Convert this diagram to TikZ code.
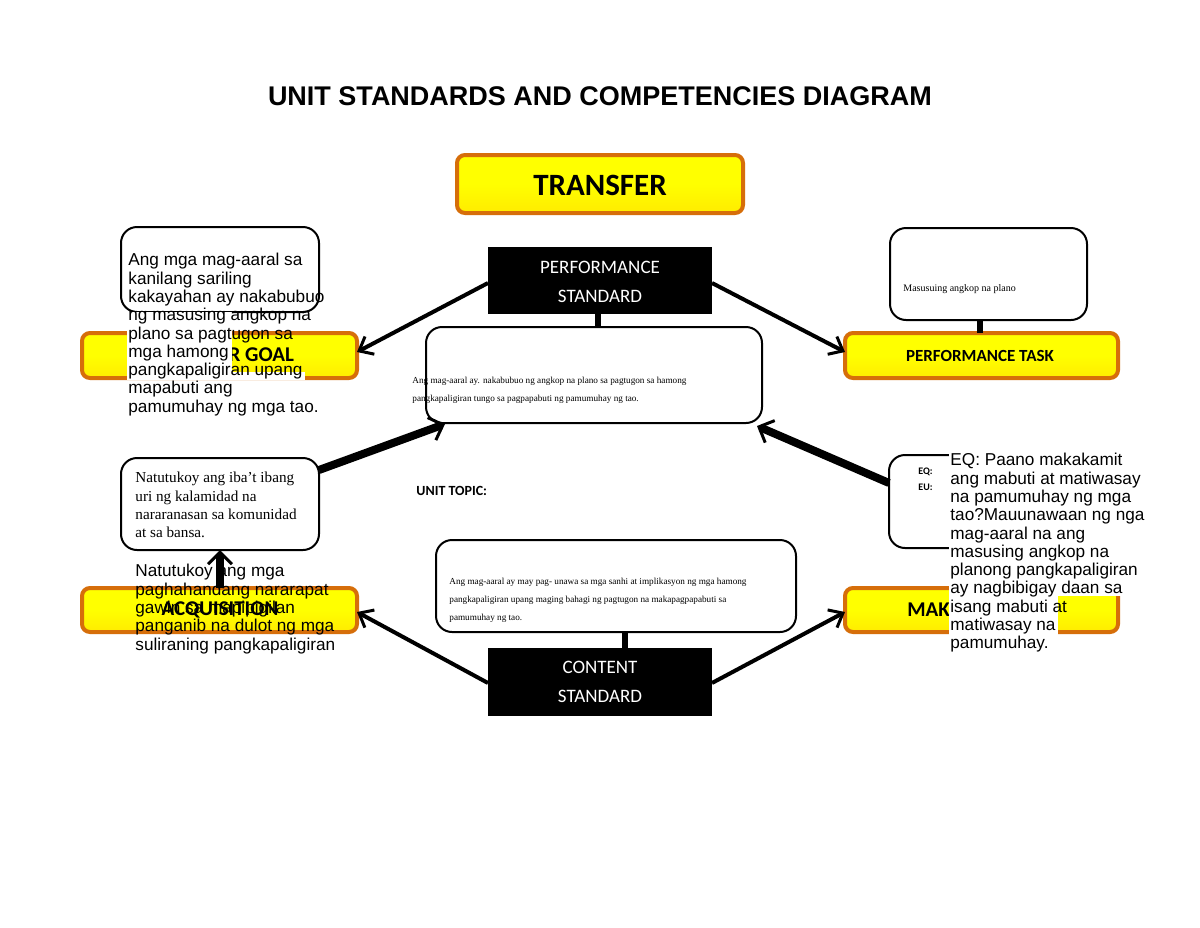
\documentclass[tikz,border=0pt]{standalone}
\usepackage{fontspec}
\setmainfont{Liberation Serif}
\newfontfamily\arial{Liberation Sans}
\newfontfamily\cali{Carlito}
\usetikzlibrary{arrows.meta}
\tikzset{
 ybox/.style={draw={rgb,255:red,214;green,110;blue,10},line width=2pt,rounded corners=4pt,top color=yellow,bottom color=yellow!85!orange,middle color=yellow},
 wbox/.style={draw=black,line width=1pt,rounded corners=8pt,fill=white},
 kbox/.style={fill=black},
 arr/.style={line width=2pt,-{Straight Barb[length=6pt,width=10pt,line width=1.5pt]}},
 tarr/.style={line width=4pt,-{Straight Barb[length=6pt,width=12pt,line width=1.5pt]}},
 stub/.style={line width=3pt},
 txt/.style={inner sep=0pt,align=left,anchor=north west},
 sans/.style={font=\arial\fontsize{8.6}{9.15}\selectfont},
 tiny/.style={font=\fontsize{4.6}{9}\selectfont},
}
\begin{document}
\begin{tikzpicture}[x=0.5pt,y=-0.5pt]
\useasboundingbox (0,0) rectangle (1200,927);
\fill[white] (0,0) rectangle (1200,927);
\node[font=\arial\bfseries\fontsize{13.5}{15}\selectfont] (title) at (600,96) {UNIT STANDARDS AND COMPETENCIES DIAGRAM};
% boxes
\draw[ybox] (457,155) rectangle (743,213);
\node[font=\cali\bfseries\fontsize{15.5}{17}\selectfont] (transfer) at (600,185) {TRANSFER};
\fill[kbox] (488,247) rectangle (712,314);
\node[white,align=center,font=\cali\fontsize{9.5}{14.5}\selectfont] (ps) at (600,282) {PERFORMANCE\\STANDARD};
\coordinate (psL) at (488,283); \coordinate (psR) at (712,283); \coordinate (psB) at (598,314);
\fill[kbox] (488,648) rectangle (712,716);
\node[white,align=center,font=\cali\fontsize{9.5}{14.5}\selectfont] (cs) at (600,682) {CONTENT\\STANDARD};
\coordinate (csL) at (488,683); \coordinate (csR) at (712,683); \coordinate (csT) at (625,648);
\draw[wbox] (426,327) rectangle (762,423);
\coordinate (ctT) at (598,327); \coordinate (ctBL) at (445,424); \coordinate (ctBR) at (757,426);
\node[txt,tiny] (ctext) at (412,377) {Ang mag-aaral ay. nakabubuo ng angkop na plano sa pagtugon sa hamong\\pangkapaligiran tungo sa pagpapabuti ng pamumuhay ng tao.};
\draw[wbox] (436,540) rectangle (796,632);
\coordinate (cbB) at (625,632);
\node[txt,tiny] (btext) at (449,578) {Ang mag-aaral ay may pag- unawa sa mga sanhi at implikasyon ng mga hamong\\pangkapaligiran upang maging bahagi ng pagtugon na makapagpapabuti sa\\pamumuhay ng tao.};
\node[anchor=west,inner sep=0pt,font=\cali\bfseries\fontsize{7}{8}\selectfont] (topic) at (416,491) {UNIT TOPIC:};
% right top
\draw[wbox] (890,228) rectangle (1087,320);
\coordinate (rtB) at (980,320);
\node[anchor=west,inner sep=0pt,font=\fontsize{5}{6}\selectfont] (rtt) at (903,289) {Masusuing angkop na plano};
\draw[ybox] (845,333) rectangle (1118,378);
\node[font=\cali\bfseries\fontsize{8.5}{10}\selectfont] (ptask) at (980,356) {PERFORMANCE TASK};
\coordinate (ptL) at (845,352); \coordinate (ptT) at (980,333);
% left top
\draw[wbox] (121,227) rectangle (319,312);
\draw[ybox] (82,333) rectangle (357,378);
\node[font=\cali\bfseries\fontsize{10.5}{12}\selectfont] (goal) at (222,355) {TRANSFER GOAL};
\coordinate (lgR) at (357,352);
\fill[white] (127,312) rectangle (232,372);
\fill[white] (127,372) rectangle (305,380);
\node[txt,sans] (gtext) at (128,253) {Ang mga mag-aaral sa\\kanilang sariling\\kakayahan ay nakabubuo\\ng masusing angkop na\\plano sa pagtugon sa\\mga hamong\\pangkapaligiran upang\\mapabuti ang\\pamumuhay ng mga tao.};
% left middle
\draw[wbox] (121,458) rectangle (319,550);
\node[txt,font=\fontsize{7.6}{9.1}\selectfont] (ltext) at (135,472) {Natutukoy ang iba’t ibang\\uri ng kalamidad na\\nararanasan sa komunidad\\at sa bansa.};
\coordinate (lmR) at (319,470); \coordinate (lmB) at (220,550);
\draw[ybox] (82,588) rectangle (357,632);
\node[font=\cali\bfseries\fontsize{10.5}{12}\selectfont] (acq) at (220,610) {ACQUISITION};
\coordinate (acR) at (357,612); \coordinate (acT) at (220,588);
\node[txt,sans] (atext) at (135,564) {Natutukoy ang mga\\paghahandang nararapat\\gawin sa mapipigilan\\panganib na dulot ng mga\\suliraning pangkapaligiran};
% right middle
\draw[wbox] (889,455) rectangle (1087,548);
\coordinate (eqL) at (889,483);
\node[txt,font=\cali\bfseries\fontsize{5}{8}\selectfont] (eq) at (918,468) {EQ:\\EU:};
\draw[ybox] (845,588) rectangle (1118,632);
\node[font=\cali\bfseries\fontsize{10.5}{12}\selectfont] (mm) at (980,610) {MAKE MEANING};
\coordinate (mmL) at (845,612);
\fill[white] (949,452) rectangle (1150,596);
\fill[white] (949,596) rectangle (1058,650);
\node[txt,sans] (rtext) at (950,453) {EQ: Paano makakamit\\ang mabuti at matiwasay\\na pamumuhay ng mga\\tao?Mauunawaan ng nga\\mag-aaral na ang\\masusing angkop na\\planong pangkapaligiran\\ay nagbibigay daan sa\\isang mabuti at\\matiwasay na\\pamumuhay.};
% connectors
\draw[arr] (psL) -- (lgR);
\draw[arr] (psR) -- (ptL);
\draw[stub] (psB) -- (ctT);
\draw[stub] (ptT) -- (rtB);
\draw[tarr] (lmR) -- (ctBL);
\draw[tarr] (eqL) -- (ctBR);
\draw[tarr] (acT) -- (lmB);
\draw[arr] (csL) -- (acR);
\draw[arr] (csR) -- (mmL);
\draw[stub] (csT) -- (cbB);
\end{tikzpicture}
\end{document}
